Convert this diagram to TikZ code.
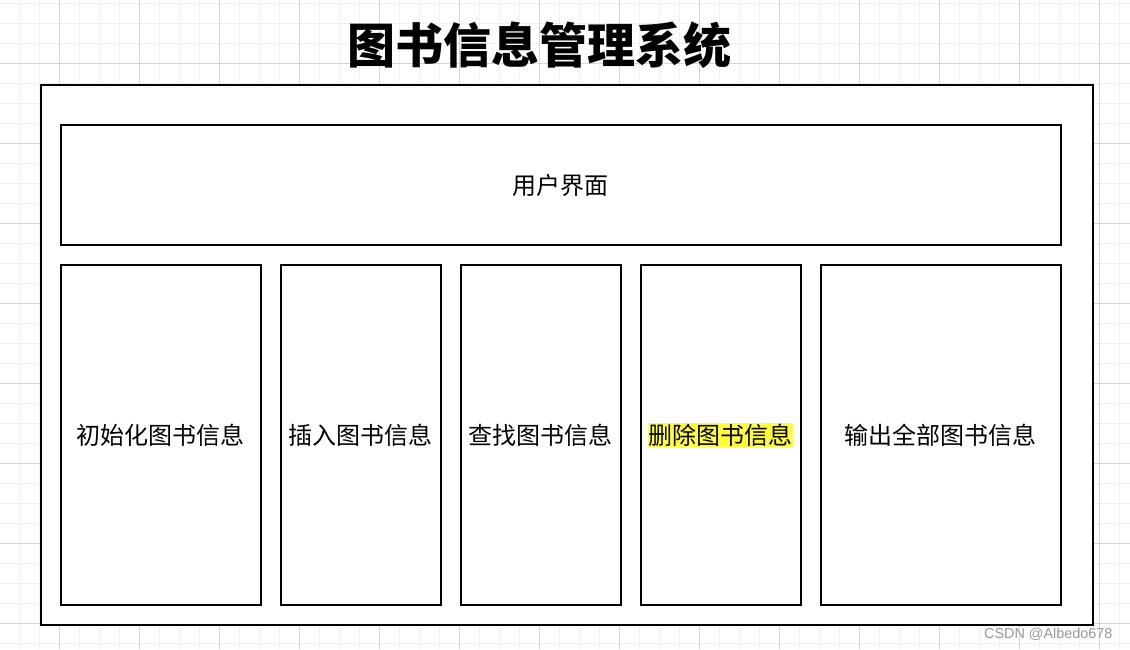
\documentclass[tikz,border=0pt]{standalone}
\usepackage{fontspec}
\newfontfamily\cjk{Noto Sans CJK SC}
\newfontfamily\wm{Liberation Sans}
\definecolor{minorgrid}{HTML}{F0F0F0}
\definecolor{majorgrid}{HTML}{D4D4D4}
\definecolor{hl}{HTML}{FFFF33}
\begin{document}
\begin{tikzpicture}[x=1pt,y=-1pt,
  box/.style={draw=black,line width=1.8pt,fill=white,inner sep=0pt,anchor=north west},
  lbl/.style={font=\cjk\fontsize{24}{27}\selectfont,text=black}]
\useasboundingbox (0,0) rectangle (1130,649);
\fill[white] (0,0) rectangle (1130,649);
% grid
\foreach \i in {0,...,55} {\draw[minorgrid,line width=0.9pt] ({19.3+20*\i},0) -- ({19.3+20*\i},649);}
\foreach \j in {0,...,32} {\draw[minorgrid,line width=0.9pt] (0,{3.3+20*\j}) -- (1130,{3.3+20*\j});}
\foreach \i in {0,...,13} {\draw[majorgrid,line width=0.9pt] ({59.3+80*\i},0) -- ({59.3+80*\i},649);}
\foreach \j in {0,...,7} {\draw[majorgrid,line width=0.9pt] (0,{63.3+80*\j}) -- (1130,{63.3+80*\j});}
% title
\node[font=\cjk\bfseries\fontsize{48}{51}\selectfont] (title) at (539,45) {图书信息管理系统};
% outer box
\node[box,minimum width=1052pt,minimum height=540pt] (outer) at (40,84) {};
\node[box,minimum width=1000pt,minimum height=120pt] (ui) at (60,124) {};
\node[lbl] at (ui.center) {用户界面};
\node[box,minimum width=200pt,minimum height=340pt] (b1) at (60,264) {};
\node[box,minimum width=160pt,minimum height=340pt] (b2) at (280,264) {};
\node[box,minimum width=160pt,minimum height=340pt] (b3) at (460,264) {};
\node[box,minimum width=160pt,minimum height=340pt] (b4) at (640,264) {};
\node[box,minimum width=240pt,minimum height=340pt] (b5) at (820,264) {};
\node[lbl] (t1) at (b1.center) {初始化图书信息};
\node[lbl] (t2) at (b2.center) {插入图书信息};
\node[lbl] (t3) at (b3.center) {查找图书信息};
\node[lbl,fill=hl,inner sep=0.5pt] (t4) at (b4.center) {删除图书信息};
\node[lbl] (t5) at (b5.center) {输出全部图书信息};
\node[font=\wm\fontsize{14.4}{16}\selectfont,text=black!40,anchor=east] (wm) at (1116,634) {CSDN @Albedo678};
\end{tikzpicture}
\end{document}
